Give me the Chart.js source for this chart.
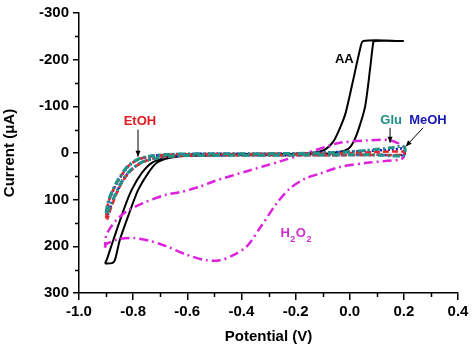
<!DOCTYPE html>
<html>
<head>
<meta charset="utf-8">
<script src="https://cdn.jsdelivr.net/npm/chart.js@4.4.1/dist/chart.umd.min.js"></script>
<style>
  html, body { margin: 0; padding: 0; background: #fff; }
  #wrap { width: 474px; height: 349px; }
</style>
</head>
<body>
<div id="wrap"><canvas id="cv" width="474" height="349"></canvas></div>
<script>
// Cyclic voltammograms: potential (V) vs current (µA)
// Switching potentials appear twice so the spline turns without overshooting.

const aaPotential = [-0.904, -0.904, -0.878, -0.867, -0.849, -0.805, -0.781, -0.744, -0.713, -0.664, -0.6, -0.4, -0.2, -0.1, -0.04, -0.005, 0.015, 0.035, 0.057, 0.075, 0.087, 0.092, 0.2, 0.2, 0.05, 0.038, 0.013, -0.015, -0.035, -0.06, -0.09, -0.13, -0.2, -0.4, -0.62, -0.682, -0.731, -0.768, -0.805, -0.83, -0.873, -0.885, -0.897, -0.904];
const aaCurrent   = [237, 237, 236, 229, 186, 114, 78.5, 42.7, 21, 10.5, 6, 4, 3, 2, -2, -9, -25, -55, -100, -179, -237, -240, -240, -240, -240, -222, -157, -86, -55, -25, -8, -1, 2, 2, 4, 10.5, 21, 42.7, 78.5, 114, 186, 207, 228, 237];

const etohPotential = [-0.9, -0.892, -0.873, -0.849, -0.818, -0.781, -0.731, -0.67, -0.6, -0.4, -0.2, 0, 0.1, 0.2, 0.2, 0.1, 0, -0.2, -0.4, -0.6, -0.66, -0.715, -0.765, -0.805, -0.838, -0.862, -0.882, -0.896];
const etohCurrent   = [140, 107, 78, 53, 28, 14, 7, 3.5, 2.5, 2, 1.5, 0, -2, -3, 3, 4, 4.5, 5, 5, 5.5, 7, 11, 20, 36, 60, 88, 118, 143];

const gluPotential = [-0.9, -0.892, -0.873, -0.849, -0.818, -0.781, -0.731, -0.67, -0.6, -0.4, -0.2, -0.05, 0.05, 0.15, 0.2, 0.2, 0.1, 0, -0.2, -0.4, -0.6, -0.66, -0.715, -0.765, -0.805, -0.838, -0.862, -0.882, -0.896];
const gluCurrent   = [128, 103, 76, 51, 27, 13, 6, 3, 2, 1.5, 1, -1, -5, -11, -14, 5, 4, 4, 4.5, 5, 5.5, 7, 11, 19, 34, 57, 84, 110, 130];

const meohPotential = [-0.898, -0.89, -0.871, -0.847, -0.816, -0.779, -0.729, -0.668, -0.6, -0.4, -0.2, -0.05, 0.05, 0.15, 0.2, 0.2, 0.1, 0, -0.2, -0.4, -0.6, -0.66, -0.715, -0.765, -0.805, -0.838, -0.862, -0.882, -0.894];
const meohCurrent   = [132, 105, 77, 52, 28, 13.5, 6.5, 3, 2, 1.5, 1, -2, -4, -7, -9, 4, 4, 4.5, 4.5, 5, 5.5, 7, 11, 19, 35, 58, 86, 113, 134];

const h2o2Potential = [-0.904, -0.9, -0.885, -0.85, -0.8, -0.74, -0.676, -0.602, -0.53, -0.48, -0.43, -0.38, -0.325, -0.27, -0.221, -0.165, -0.11, -0.036, 0.063, 0.186, 0.2, 0.2, 0.15, 0.063, -0.036, -0.085, -0.159, -0.257, -0.38, -0.504, -0.553, -0.627, -0.676, -0.762, -0.824, -0.861, -0.885, -0.9, -0.904];
const h2o2Current   = [203, 196, 191, 184, 182, 188, 200, 218, 230, 230, 219, 200, 155, 108, 76, 55, 44, 30, 21, 14, 8, -12, -27, -27, -22, -14, 0, 18, 39, 61, 72, 84, 89, 107, 125, 143, 161, 178, 203];

const xTickValues = [-1.0, -0.8, -0.6, -0.4, -0.2, 0.0, 0.2, 0.4];
const yTickValues = [-300, -200, -100, 0, 100, 200, 300];
const xMinorTicks = [-0.9, -0.7, -0.5, -0.3, -0.1, 0.1, 0.3];
const yMinorTicks = [-250, -150, -50, 50, 150, 250];

const FONT = "'Liberation Sans', Arial, sans-serif";

function toPoints(xs, ys) {
  return xs.map((x, i) => ({ x: x, y: ys[i] }));
}

// Series labels with arrows, anchored in data units
const seriesNotes = [
  { text: 'AA',   color: '#000000', at: [-0.02, -200] },
  { text: 'EtOH', color: '#e01b22', at: [-0.775, -67], arrow: [[-0.782, -50], [-0.782, 8]] },
  { text: 'Glu',  color: '#1b8f83', at: [0.153, -69],  arrow: [[0.149, -54], [0.149, -22]] },
  { text: 'MeOH', color: '#1818b4', at: [0.289, -69],  arrow: [[0.271, -54], [0.207, -14]] }
];

function drawArrow(ctx, x1, y1, x2, y2) {
  ctx.beginPath();
  ctx.moveTo(x1, y1);
  ctx.lineTo(x2, y2);
  ctx.strokeStyle = '#000';
  ctx.lineWidth = 1;
  ctx.stroke();
  const a = Math.atan2(y2 - y1, x2 - x1);
  const L = 6, W = 2.5;
  ctx.beginPath();
  ctx.moveTo(x2, y2);
  ctx.lineTo(x2 - L * Math.cos(a) + W * Math.sin(a), y2 - L * Math.sin(a) - W * Math.cos(a));
  ctx.lineTo(x2 - L * Math.cos(a) - W * Math.sin(a), y2 - L * Math.sin(a) + W * Math.cos(a));
  ctx.closePath();
  ctx.fillStyle = '#000';
  ctx.fill();
}

const decorPlugin = {
  id: 'decor',
  afterDraw(chart) {
    const ctx = chart.ctx;
    const xs = chart.scales.x, ys = chart.scales.y;
    const area = chart.chartArea;
    ctx.save();
    // minor ticks
    ctx.strokeStyle = '#000';
    ctx.lineWidth = 1.5;
    ctx.beginPath();
    xMinorTicks.forEach(v => {
      const px = Math.round(xs.getPixelForValue(v)) + 0.5;
      ctx.moveTo(px, area.bottom);
      ctx.lineTo(px, area.bottom + 4);
    });
    yMinorTicks.forEach(v => {
      const py = Math.round(ys.getPixelForValue(v)) + 0.5;
      ctx.moveTo(area.left, py);
      ctx.lineTo(area.left - 4, py);
    });
    ctx.stroke();

    // series labels
    ctx.font = 'bold 13px ' + FONT;
    ctx.textAlign = 'center';
    ctx.textBaseline = 'middle';
    seriesNotes.forEach(n => {
      ctx.fillStyle = n.color;
      ctx.fillText(n.text, xs.getPixelForValue(n.at[0]), ys.getPixelForValue(n.at[1]));
      if (n.arrow) {
        drawArrow(ctx,
          xs.getPixelForValue(n.arrow[0][0]), ys.getPixelForValue(n.arrow[0][1]),
          xs.getPixelForValue(n.arrow[1][0]), ys.getPixelForValue(n.arrow[1][1]));
      }
    });

    // H2O2 label with subscripts
    let hx = xs.getPixelForValue(-0.256);
    const hy = ys.getPixelForValue(181);
    ctx.fillStyle = '#cc2fcc';
    ctx.textAlign = 'left';
    ctx.textBaseline = 'alphabetic';
    const parts = [['H', false], ['2', true], ['O', false], ['2', true]];
    parts.forEach(([t, sub]) => {
      ctx.font = sub ? 'bold 9px ' + FONT : 'bold 13px ' + FONT;
      ctx.fillText(t, hx, sub ? hy + 5 : hy);
      hx += ctx.measureText(t).width + 0.5;
    });
    ctx.restore();
  }
};

const lineBase = { showLine: true, pointRadius: 0, pointHoverRadius: 0, fill: false, tension: 0.3 };

new Chart(document.getElementById('cv'), {
  type: 'scatter',
  data: {
    datasets: [
      Object.assign({}, lineBase, { label: 'Glu',  data: toPoints(gluPotential, gluCurrent),   borderColor: '#1f9389', borderWidth: 3, borderDash: [7, 3, 2, 3] }),
      Object.assign({}, lineBase, { label: 'EtOH', data: toPoints(etohPotential, etohCurrent), borderColor: '#e3262a', borderWidth: 2.5, borderDash: [6, 3] }),
      Object.assign({}, lineBase, { label: 'MeOH', data: toPoints(meohPotential, meohCurrent), borderColor: '#1c1cc0', borderWidth: 2.5, borderDash: [2, 2] }),
      Object.assign({}, lineBase, { label: 'H2O2', data: toPoints(h2o2Potential, h2o2Current), borderColor: '#dd22dd', borderWidth: 2.5, borderDash: [9, 4, 2, 4] }),
      Object.assign({}, lineBase, { label: 'AA',   data: toPoints(aaPotential, aaCurrent),     borderColor: '#000000', borderWidth: 2, tension: 0.25 })
    ]
  },
  options: {
    responsive: false,
    animation: false,
    devicePixelRatio: 1,
    layout: { padding: { left: 0, right: 16, top: 13, bottom: 0 } },
    plugins: { legend: { display: false }, tooltip: { enabled: false } },
    events: [],
    scales: {
      x: {
        type: 'linear',
        min: -1.0,
        max: 0.4,
        afterBuildTicks: s => { s.ticks = xTickValues.map(v => ({ value: v })); },
        afterFit: s => { s.height = 56; },
        ticks: {
          color: '#000',
          font: { family: FONT, size: 15, weight: 'bold' },
          padding: 3,
          maxRotation: 0,
          autoSkip: false,
          callback: v => (Math.abs(v) < 1e-9 ? 0 : v).toFixed(1)
        },
        grid: { drawOnChartArea: false, drawTicks: true, tickLength: 7, color: '#000', lineWidth: 1.5 },
        border: { display: true, color: '#000', width: 1.5 },
        title: {
          display: true,
          text: 'Potential (V)',
          color: '#000',
          font: { family: FONT, size: 15, weight: 'bold' },
          padding: { top: 0, bottom: 3 }
        }
      },
      y: {
        type: 'linear',
        reverse: true,
        min: -300,
        max: 300,
        afterBuildTicks: s => { s.ticks = yTickValues.map(v => ({ value: v })); },
        afterFit: s => { s.width = 79; },
        ticks: {
          color: '#000',
          font: { family: FONT, size: 15, weight: 'bold' },
          padding: 4,
          autoSkip: false,
          callback: v => String(v)
        },
        grid: { drawOnChartArea: false, drawTicks: true, tickLength: 6, color: '#000', lineWidth: 1.5 },
        border: { display: true, color: '#000', width: 1.5 },
        title: {
          display: true,
          text: 'Current (\u03BCA)',
          color: '#000',
          font: { family: FONT, size: 15, weight: 'bold' },
          padding: { top: 1, bottom: 0 }
        }
      }
    }
  },
  plugins: [decorPlugin]
});
</script>
</body>
</html>
